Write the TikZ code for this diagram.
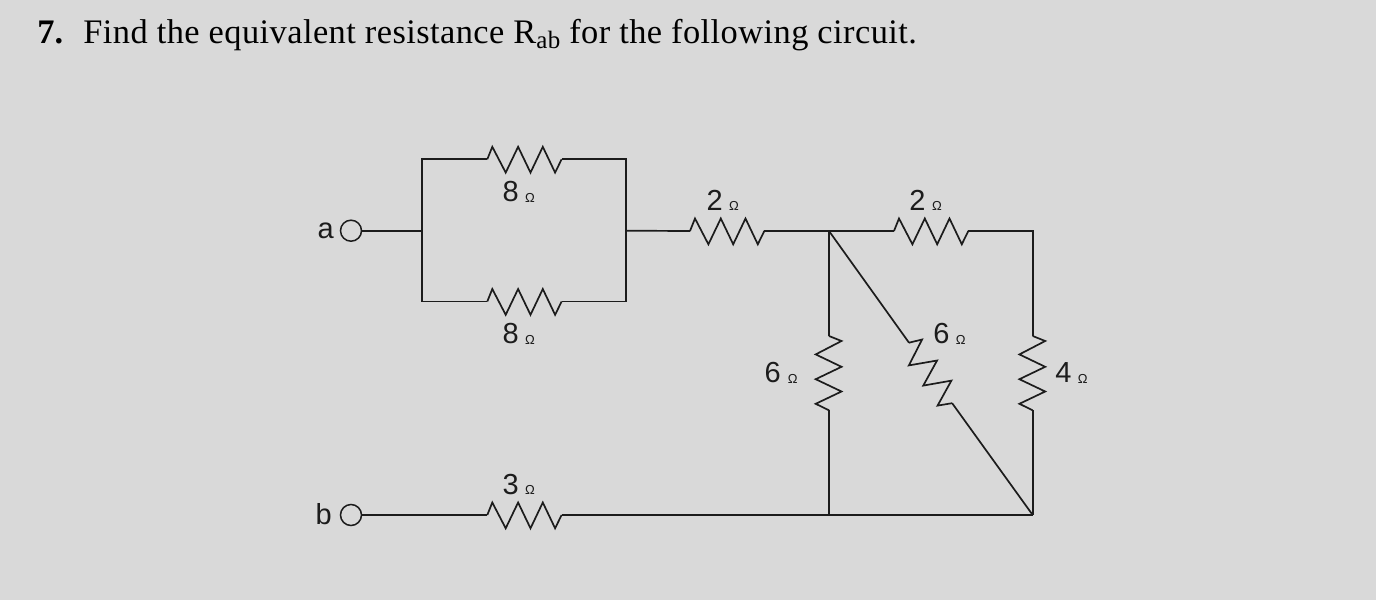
\documentclass[tikz,border=0pt]{standalone}
\usepackage{fontspec}
\setmainfont{Liberation Serif}
\newfontfamily\lblfont{Liberation Sans}
\definecolor{pagebg}{HTML}{D9D9D9}
\definecolor{ink}{HTML}{1C1C1C}
\tikzset{
  x=0.5pt,y=-0.5pt,
  wire/.style={draw=ink,line width=0.85pt,line join=miter,line cap=butt},
  terminal/.style={circle,draw=ink,line width=0.75pt,inner sep=0pt,minimum size=10.5pt},
  digit/.style={inner sep=0pt,text=ink,font=\lblfont\fontsize{14.5}{14.5}\selectfont},
  ohm/.style={inner sep=0pt,text=ink,font=\lblfont\fontsize{6.5}{7}\selectfont},
  title/.style={inner sep=0pt,anchor=base west,text=black,font=\addfontfeature{LetterSpace=1.25}\fontsize{17.2}{18}\selectfont},
  res/.pic={
    \draw[wire] (0,0) -- (5,-12.5) -- (18.4,13.3) -- (30.8,-12.5) -- (43.2,13.3) -- (55.5,-12.5) -- (67.8,13.3) -- (74.3,0);
    \coordinate (-in) at (0,0);
    \coordinate (-out) at (74.3,0);
  }
}
\begin{document}
\begin{tikzpicture}
\useasboundingbox[fill=pagebg] (0,0) rectangle (1376,600);
% title
\node[title,font=\bfseries\fontsize{17.2}{18}\selectfont] (num) at (37,43) {7.};
\node[title] (ttl) at (83,43) {Find the equivalent resistance R\raisebox{-2.8pt}{\fontsize{12.5}{12}\selectfont ab} for the following circuit.};
% terminals
\node[terminal] (a) at (351,230.7) {};
\node[terminal] (b) at (351,515) {};
\node[digit] (la) at (325.8,230.7) {a};
\node[digit] (lb) at (323.8,514) {b};
% junctions
\coordinate (jl) at (422,230.7);
\coordinate (jr) at (625.7,230.7);
\coordinate (jm) at (829,231);
\coordinate (jtr) at (1032.7,231);
\coordinate (jbm) at (829,515);
\coordinate (jbr) at (1032.7,515);
% resistors
\pic (r1) at (487.3,159.3) {res};
\pic (r2) at (487.3,301.5) {res};
\pic (r3) at (690,231) {res};
\pic (r4) at (894,231) {res};
\pic (r5) at (487.3,515) {res};
\pic[rotate=-90] (r6) at (829,336) {res};
\pic[rotate=-90] (r7) at (1032.7,336) {res};
\pic[rotate=-54.5] (r8) at (909,342.7) {res};
% wires
\draw[wire] (a) -- (jl);
\draw[wire] (r1-in) -| (jl) |- (r2-in);
\draw[wire] (r1-out) -| (jr) |- (r2-out);
\draw[wire] (jr) -- (r3-in);
\draw[wire] (r3-out) -- (jm) -- (r4-in);
\draw[wire] (r4-out) -| (r7-in);
\draw[wire] (jm) -- (r6-in);
\draw[wire] (jm) -- (r8-in);
\draw[wire] (r8-out) -- (jbr);
\draw[wire] (r6-out) -- (jbm);
\draw[wire] (r7-out) -- (jbr);
\draw[wire] (b) -- (r5-in);
\draw[wire] (r5-out) -- (jbr);
% labels
\node[digit] (v1) at (510.7,192) {8};   \node[ohm] (o1) at (530,198) {Ω};
\node[digit] (v2) at (510.7,334) {8};   \node[ohm] (o2) at (530,340) {Ω};
\node[digit] (v3) at (714.7,200.7) {2}; \node[ohm] (o3) at (734,206) {Ω};
\node[digit] (v4) at (917.4,200.7) {2}; \node[ohm] (o4) at (937,206) {Ω};
\node[digit] (v5) at (510.7,485) {3};   \node[ohm] (o5) at (530,490) {Ω};
\node[digit] (v6) at (772.7,373) {6};   \node[ohm] (o6) at (792.7,379) {Ω};
\node[digit] (v7) at (1063.4,373) {4}; \node[ohm] (o7) at (1082.7,379) {Ω};
\node[digit] (v8) at (941.4,334) {6}; \node[ohm] (o8) at (960.7,340) {Ω};
\end{tikzpicture}
\end{document}
